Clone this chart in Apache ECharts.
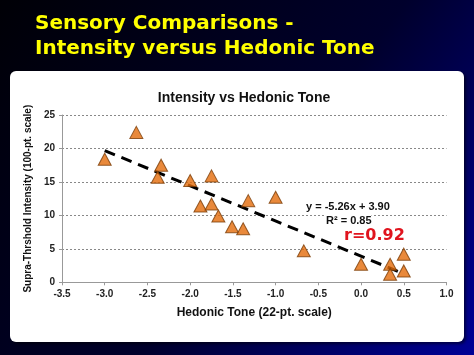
<!DOCTYPE html>
<html><head><meta charset="utf-8">
<script src="https://cdn.jsdelivr.net/npm/echarts@6/dist/echarts.min.js"></script>
<style>html,body{margin:0;padding:0;background:#000018;}#c{width:474px;height:355px;}</style>
</head><body><div id="c"></div>
<script>
const slideTitle = ['Sensory Comparisons -', 'Intensity versus Hedonic Tone'];
const chartTitle = 'Intensity vs Hedonic Tone';
const xName = 'Hedonic Tone (22-pt. scale)';
const yName = 'Supra-Thrshold Intensity (100-pt. scale)';
const hedonic = [-3.0, -2.63, -2.38, -2.34, -2.0, -1.88, -1.75, -1.75, -1.67, -1.51, -1.38, -1.32, -1.0, -0.67, 0.0, 0.34, 0.34, 0.5, 0.5];
const intensity = [18.4, 22.4, 15.7, 17.5, 15.2, 11.4, 15.9, 11.7, 9.9, 8.3, 8.0, 12.2, 12.7, 4.7, 2.7, 2.7, 1.2, 4.2, 1.7];
const trendX = [-3.0, 0.5];
const trendY = [19.68, 1.27];
const eqLines = ['y = -5.26x + 3.90', 'R² = 0.85'];
const rText = 'r=0.92';

const chart = echarts.init(document.getElementById('c'), null, {renderer: 'canvas'});
const pts = hedonic.map((x, i) => [x, intensity[i]]);
const trend = trendX.map((x, i) => [x, trendY[i]]);
const lblFont = {fontFamily: 'Liberation Sans, Arial', fontWeight: 'bold', fontSize: 10, color: '#222'};
chart.setOption({
  backgroundColor: {type: 'linear', x: 0, y: 0, x2: 1, y2: 1, colorStops: [
    {offset: 0, color: '#000006'}, {offset: 0.55, color: '#00002c'}, {offset: 1, color: '#000096'}]},
  animation: false,
  graphic: [
    {type: 'rect', shape: {x: 10, y: 71, width: 454, height: 271, r: 6}, style: {fill: '#ffffff', shadowColor: 'rgba(0,0,0,0.5)', shadowBlur: 3, shadowOffsetX: 2, shadowOffsetY: 2}, z: 0},
    {type: 'text', left: 35, top: 11, style: {text: slideTitle.join('\n'), fill: '#ffff00', font: 'bold 20px "DejaVu Sans"', lineHeight: 25}, z: 5},
    {type: 'text', left: 305, top: 201, style: {text: eqLines[0], fill: '#111', font: 'bold 11px "Liberation Sans"', backgroundColor: '#fff', padding: [0, 1]}, z: 20},
    {type: 'text', left: 326, top: 215, style: {text: eqLines[1], fill: '#111', font: 'bold 11px "Liberation Sans"', backgroundColor: '#fff'}, z: 20},
    {type: 'text', left: 344, top: 228, style: {text: rText, fill: '#e0141e', font: 'bold 16px "DejaVu Sans"'}, z: 20}
  ],
  title: {text: chartTitle, left: 239, top: 86, textAlign: 'center',
    textStyle: {fontFamily: 'Liberation Sans, Arial', fontWeight: 'bold', fontSize: 14, color: '#111'}},
  grid: {left: 62, right: 27.5, top: 115, bottom: 72.7, containLabel: false},
  xAxis: {type: 'value', min: -3.5, max: 1.0, interval: 0.5,
    name: xName, nameLocation: 'middle', nameGap: 24,
    nameTextStyle: {fontFamily: 'Liberation Sans, Arial', fontWeight: 'bold', fontSize: 12, color: '#111'},
    axisLine: {onZero: false, lineStyle: {color: '#999'}},
    axisTick: {show: true, inside: false, length: 3, lineStyle: {color: '#999'}},
    axisLabel: Object.assign({formatter: v => v.toFixed(1), margin: 7}, lblFont),
    splitLine: {show: false}},
  yAxis: {type: 'value', min: 0, max: 25, interval: 5,
    name: yName, nameLocation: 'middle', nameGap: 27, nameRotate: 90,
    nameTextStyle: {fontFamily: 'Liberation Sans, Arial', fontWeight: 'bold', fontSize: 10, color: '#111'},
    axisLine: {show: true, onZero: false, lineStyle: {color: '#999'}},
    axisTick: {show: true, length: 3, lineStyle: {color: '#999'}},
    axisLabel: Object.assign({margin: 7}, lblFont),
    splitLine: {show: true, lineStyle: {color: '#888', type: [2, 2], width: 1}}},
  series: [
    {type: 'line', data: trend, symbol: 'none', z: 3,
      lineStyle: {color: '#000', width: 3, type: [11, 7]}},
    {type: 'scatter', data: pts, symbol: 'triangle', symbolSize: [13, 12], z: 4,
      itemStyle: {color: '#e46c0a', borderColor: '#7a3c06', borderWidth: 1}}
  ]
});
</script></body></html>
